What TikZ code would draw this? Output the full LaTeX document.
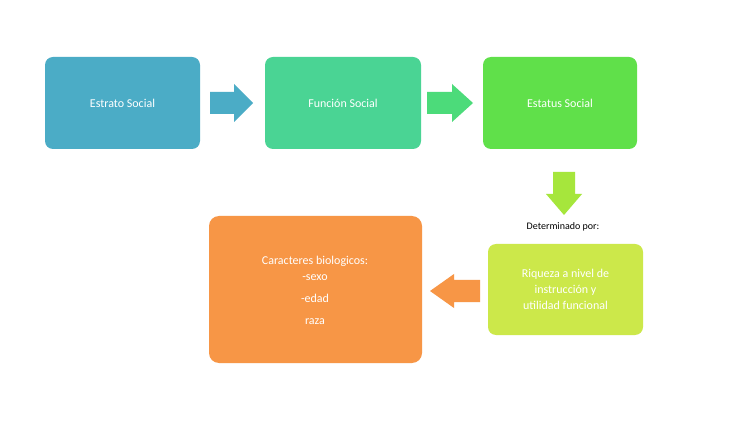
\documentclass[tikz,border=0pt]{standalone}
\usepackage{fontspec}
\setmainfont{Carlito}
\usetikzlibrary{shapes.arrows}
\definecolor{cA}{RGB}{75,172,198}
\definecolor{cB}{RGB}{74,212,148}
\definecolor{cBa}{RGB}{76,219,122}
\definecolor{cC}{RGB}{96,224,74}
\definecolor{cCa}{RGB}{166,230,60}
\definecolor{cD}{RGB}{204,232,74}
\definecolor{cE}{RGB}{247,150,70}
\tikzset{
 box/.style={rounded corners=8pt, text=white, align=center, font=\fontsize{12}{16}\selectfont, inner sep=0},
 arr/.style={single arrow, draw=none, inner sep=0, single arrow head extend=0pt}
}
\begin{document}
\begin{tikzpicture}[x=1pt,y=-1pt]
\useasboundingbox (0,0) rectangle (744,446);
\fill[white] (0,0) rectangle (744,446);
\fill[cA, rounded corners=8pt] (45,57) rectangle (200,149);
\node[box] (a) at (122.5,103) {Estrato Social};
\fill[cB, rounded corners=8pt] (265,57) rectangle (421,149);
\node[box] (b) at (343,103) {Función Social};
\fill[cC, rounded corners=8pt] (483,57) rectangle (637,149);
\node[box] (c) at (560,103) {Estatus Social};
\fill[cD, rounded corners=8pt] (488,244) rectangle (643,335);
\node[box] (d) at (565.5,289.5) {Riqueza a nivel de\\instrucción y\\utilidad funcional};
\fill[cE, rounded corners=10pt] (209,216) rectangle (422,363);
\node[box, align=center] (e) at (315,290) {Caracteres biologicos:\\-sexo\\[6pt]-edad\\[6pt]raza};
\fill[cA] (210,92) -- (234,92) -- (234,84) -- (253,103) -- (234,122) -- (234,114) -- (210,114) -- cycle;
\fill[cBa] (427,92) -- (452,92) -- (452,84) -- (473,103) -- (452,122) -- (452,114) -- (427,114) -- cycle;
\fill[cCa] (553,172) -- (575,172) -- (575,194) -- (582,194) -- (564,215) -- (546,194) -- (553,194) -- cycle;
\fill[cE] (480,280) -- (454,280) -- (454,274) -- (430,291) -- (454,308) -- (454,302) -- (480,302) -- cycle;
\node[font=\fontsize{10}{12}\selectfont] (t) at (563,227) {Determinado por:};
\end{tikzpicture}
\end{document}
